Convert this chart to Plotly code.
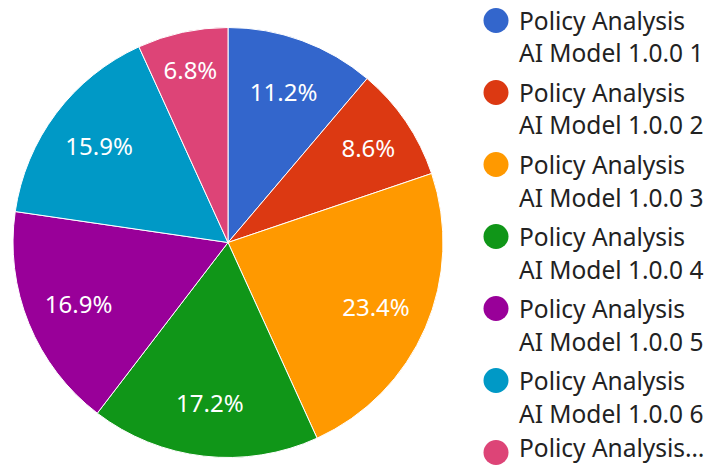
import plotly.graph_objects as go

labels = [f"Policy Analysis AI Model 1.0.0 {i}" for i in range(1, 8)]
values = [11.2, 8.6, 23.4, 17.2, 16.9, 15.9, 6.8]
colors = ["#3366cc", "#dc3912", "#ff9900", "#109618", "#990099", "#0099c6", "#dd4477"]
legend_lines = [
    ["Policy Analysis", "AI Model 1.0.0 1"],
    ["Policy Analysis", "AI Model 1.0.0 2"],
    ["Policy Analysis", "AI Model 1.0.0 3"],
    ["Policy Analysis", "AI Model 1.0.0 4"],
    ["Policy Analysis", "AI Model 1.0.0 5"],
    ["Policy Analysis", "AI Model 1.0.0 6"],
    ["Policy Analysis…"],
]

W, H = 707, 466
FONT = "Noto Sans"
FS = 24

cx, cy, r = 228, 242.5, 215
dom = dict(x=[(cx - r) / W, (cx + r) / W], y=[(H - cy - r) / H, (H - cy + r) / H])

fig = go.Figure()
# visible slices
fig.add_trace(go.Pie(
    labels=labels, values=values, sort=False, direction="clockwise", rotation=0,
    marker=dict(colors=colors, line=dict(color="white", width=1)),
    textinfo="none", domain=dom, showlegend=False, hoverinfo="label+percent",
))
# transparent ring that carries the percentage labels further out
fig.add_trace(go.Pie(
    labels=labels, values=values, sort=False, direction="clockwise", rotation=0,
    hole=0.5,
    marker=dict(colors=["rgba(0,0,0,0)"] * len(values), line=dict(width=0)),
    texttemplate="%{percent:.1%}", textposition="inside",
    insidetextorientation="horizontal",
    insidetextfont=dict(color="white", size=FS, family=FONT),
    domain=dom, showlegend=False, hoverinfo="skip",
))

shapes, annotations = [], []
pitch = 72
LFS = 24.5
for i, (col, lines) in enumerate(zip(colors, legend_lines)):
    ymid = 20.5 + pitch * i
    shapes.append(dict(type="circle", xref="paper", yref="paper",
                       xsizemode="pixel", ysizemode="pixel",
                       xanchor=496 / W, yanchor=1 - ymid / H,
                       x0=-12.5, x1=12.5, y0=-12.5, y1=12.5,
                       fillcolor=col, line=dict(width=0)))
    for j, t in enumerate(lines):
        yc = ymid + 32.5 * j
        if yc + LFS * 0.65 > H:
            ypos, yanc = 0, "bottom"
        else:
            ypos, yanc = 1 - yc / H, "middle"
        annotations.append(dict(text=t, xref="paper", yref="paper",
                                x=517 / W, y=ypos,
                                xanchor="left", yanchor=yanc, showarrow=False,
                                font=dict(family=FONT, size=LFS, color="#222222")))

fig.update_layout(
    width=W, height=H, margin=dict(l=0, r=0, t=0, b=0),
    paper_bgcolor="white", plot_bgcolor="white",
    font=dict(family=FONT),
    shapes=shapes, annotations=annotations,
)
fig.write_html("out.html", config={"displayModeBar": False},
               post_script="document.body.style.margin='0';")
